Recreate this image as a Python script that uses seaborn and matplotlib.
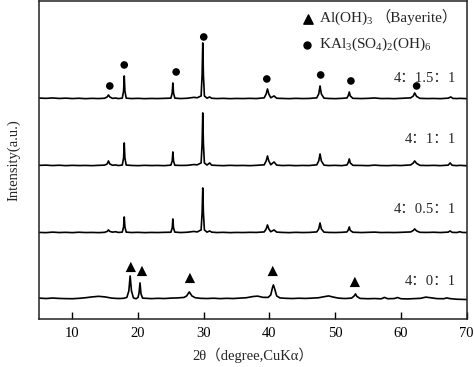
import matplotlib
matplotlib.use("Agg")
import matplotlib.pyplot as plt
import pandas as pd
import seaborn as sns
from matplotlib.offsetbox import AnnotationBbox, HPacker, TextArea

sns.set_style("ticks")
SERIF = "Liberation Serif"
CJK = "Noto Sans CJK SC"
plt.rcParams["font.family"] = [SERIF, CJK]
plt.rcParams["mathtext.fontset"] = "stix"
plt.rcParams["mathtext.default"] = "regular"

# (2theta, intensity above the pattern's own baseline)
PAT_401 = [
    (5, 0.8), (6, 0.4), (7, 0.9), (8, 0.5), (9, 0.3), (10, 0.2), (11, 0.6),
    (12, 1.2), (13, 2.0), (14, 2.6), (15, 2.0), (16, 0.8), (17, 0.4),
    (17.8, 0.6), (18.3, 1.5), (18.6, 8), (18.8, 23), (19.0, 8), (19.3, 1.0),
    (19.7, 0.2), (20.0, 1.5), (20.15, 6), (20.3, 16), (20.45, 5), (20.7, 0.8),
    (21.5, 0.5), (22, 0.3), (23, 0.6), (24, 0.4), (25, 0.8), (26, 1.0),
    (27, 1.5), (27.4, 3), (27.8, 7), (28.2, 3), (28.7, 1.2), (29.5, 0.6),
    (30.5, 0.4), (31.5, 0.7), (32.5, 0.3), (33.5, 0.6), (34.5, 0.4),
    (35.5, 0.8), (36.5, 1.2), (37.5, 2.4), (38.2, 2.8), (39, 1.6), (39.8, 1.5),
    (40.2, 4), (40.45, 11), (40.6, 14), (40.8, 10), (41.1, 3), (41.6, 1.0),
    (42.5, 0.6), (43.5, 0.4), (44.5, 0.7), (45.5, 0.5), (46.5, 0.8),
    (47.5, 1.2), (48.3, 2.2), (49, 3.0), (49.6, 2.0), (50.5, 0.8), (51.5, 0.4),
    (52.5, 0.8), (52.9, 3), (53.1, 5), (53.3, 2.5), (53.8, 0.5), (55, 0.2),
    (56, 0.4), (57, 0.1), (57.5, 1.5), (58, 0.2), (59, 0.4), (59.5, 1.4),
    (60, 0.2), (61, 0.0), (62, 0.3), (63, 0.6), (63.8, 1.8), (64.5, 1.2),
    (65.5, 0.3), (66.5, 0.2), (67, 1.0), (67.5, 0.3), (68.5, -0.3),
    (69.5, -0.5), (70, -0.6),
]

PAT_4051 = [
    (5, 0.5), (6, 0.3), (7, 0.8), (8, 0.4), (9, 0.6), (10, 0.3), (11, 0.7),
    (12, 0.4), (13, 0.5), (14, 0.3), (14.9, 0.6), (15.3, 1.5), (15.5, 3),
    (15.7, 1.5), (16.1, 0.8), (16.6, 1.2), (17.0, 0.5), (17.6, 0.8),
    (17.8, 6), (17.9, 16), (18.0, 6), (18.2, 0.8), (19, 0.4), (20, 0.6),
    (21, 0.3), (22, 0.5), (23, 0.4), (24, 0.6), (25.0, 0.7), (25.2, 5),
    (25.3, 14), (25.4, 5), (25.6, 0.8), (26.5, 0.4), (27.5, 0.7), (28.5, 1.5),
    (29.0, 1.0), (29.6, 3), (29.75, 20), (29.85, 45), (29.95, 20), (30.1, 3),
    (30.5, 0.8), (30.9, 2), (31.2, 0.8), (32, 0.4), (33, 0.6), (34, 0.3),
    (35, 0.5), (36, 0.4), (37, 0.6), (38, 0.5), (39.2, 1), (39.5, 4),
    (39.7, 8), (39.9, 4), (40.2, 1.2), (40.7, 3), (41.1, 0.8), (42, 0.5),
    (43, 0.3), (44, 0.6), (45, 0.4), (46, 0.5), (47.2, 1), (47.5, 4),
    (47.7, 10), (47.9, 4), (48.3, 0.8), (49, 0.5), (50, 0.4), (51, 0.6),
    (51.8, 1), (52.0, 3), (52.15, 6), (52.3, 2.5), (52.7, 0.7), (54, 0.4),
    (55, 0.6), (56, 0.8), (57, 0.4), (58, 0.5), (59, 0.4), (60, 0.6),
    (61.5, 1), (61.9, 2.5), (62.1, 4), (62.4, 2), (62.9, 0.6), (64, 0.5),
    (65, 0.7), (66, 0.4), (67.2, 0.8), (67.5, 2), (67.8, 0.6), (68.5, 0.4),
    (69, 1.2), (69.3, 0.5), (70, 0.4),
]

PAT_411 = [
    (5, 0.6), (6, 0.8), (7, 0.4), (8, 0.7), (9, 0.3), (10, 0.6), (11, 0.4),
    (12, 0.5), (13, 0.3), (14, 0.6), (14.9, 0.8), (15.3, 2), (15.5, 5),
    (15.7, 2), (16.1, 0.7), (16.6, 1.0), (17.0, 0.4), (17.6, 0.9),
    (17.8, 8), (17.9, 23), (18.0, 8), (18.2, 0.9), (19, 0.5), (20, 0.3),
    (21, 0.6), (22, 0.4), (23, 0.5), (24, 0.3), (25.0, 0.8), (25.2, 5),
    (25.3, 14), (25.4, 5), (25.6, 0.7), (26.5, 0.5), (27.5, 0.6), (28.5, 1.4),
    (29.0, 1.1), (29.6, 3), (29.75, 22), (29.85, 53), (29.95, 22), (30.1, 3),
    (30.5, 0.9), (30.9, 3), (31.2, 0.8), (32, 0.5), (33, 0.3), (34, 0.6),
    (35, 0.4), (36, 0.5), (37, 0.3), (38, 0.6), (39.2, 1.1), (39.5, 5),
    (39.7, 10), (39.9, 5), (40.2, 1.2), (40.7, 4), (41.1, 0.8), (42, 0.4),
    (43, 0.6), (44, 0.3), (45, 0.5), (46, 0.4), (47.2, 1.1), (47.5, 5),
    (47.7, 12), (47.9, 5), (48.3, 0.8), (49, 0.4), (50, 0.6), (51, 0.3),
    (51.8, 1), (52.0, 3.5), (52.15, 7), (52.3, 3), (52.7, 0.6), (54, 0.5),
    (55, 0.3), (56, 0.8), (57, 0.4), (58, 0.3), (59, 0.6), (60, 0.4),
    (61.5, 1), (61.9, 3), (62.1, 5), (62.4, 2.5), (62.9, 0.6), (64, 0.4),
    (65, 0.6), (66, 0.3), (67.2, 0.8), (67.5, 3), (67.8, 0.7), (68.5, 0.3),
    (69, 0.6), (70, 0.2),
]

PAT_41151 = [
    (5, 0.9), (6, 0.6), (7, 1.0), (8, 0.5), (9, 0.8), (10, 0.4), (11, 0.7),
    (12, 0.3), (13, 0.6), (14, 0.4), (14.9, 0.7), (15.3, 2), (15.5, 4),
    (15.7, 2), (16.1, 0.6), (16.6, 0.9), (17.0, 0.4), (17.6, 0.8),
    (17.8, 8), (17.9, 23), (18.0, 8), (18.2, 0.8), (19, 0.4), (20, 0.6),
    (21, 0.3), (22, 0.5), (23, 0.4), (24, 0.6), (25.0, 0.8), (25.2, 6),
    (25.3, 16), (25.4, 6), (25.6, 0.8), (26.5, 0.4), (27.5, 0.7), (28.5, 1.6),
    (29.0, 1.2), (29.6, 3), (29.75, 24), (29.85, 56), (29.95, 24), (30.1, 3),
    (30.5, 0.8), (30.9, 2), (31.2, 0.7), (32, 0.4), (33, 0.6), (34, 0.3),
    (35, 0.5), (36, 0.4), (37, 0.6), (38, 0.4), (39.2, 1.1), (39.5, 5),
    (39.7, 10), (39.9, 5), (40.2, 1.2), (40.7, 3), (41.1, 0.7), (42, 0.5),
    (43, 0.3), (44, 0.6), (45, 0.4), (46, 0.5), (47.2, 1.1), (47.5, 5),
    (47.7, 13), (47.9, 5), (48.3, 0.8), (49, 0.5), (50, 0.3), (51, 0.6),
    (51.8, 1), (52.0, 3.5), (52.15, 7), (52.3, 3), (52.7, 0.6), (54, 0.4),
    (55, 0.6), (56, 1.0), (57, 0.4), (58, 0.5), (59, 0.3), (60, 0.6),
    (61.5, 1.1), (61.9, 3), (62.1, 6), (62.4, 2.5), (62.9, 0.6), (64, 0.4),
    (65, 0.5), (66, 0.3), (67.2, 0.8), (67.6, 2), (67.9, 0.6), (68.5, 0.4),
    (69, 0.6), (70, 0.3),
]

RATIO_LABELS = ["4：0：1", "4：0.5：1", "4：1：1", "4：1.5：1"]
PATTERNS = [PAT_401, PAT_4051, PAT_411, PAT_41151]
BASELINES = [20, 86, 153, 220]
LABEL_Y = [37, 109, 179, 241]

# phase markers: 2theta and height on the figure's intensity scale
BAYERITE_TT = [18.9, 20.6, 27.9, 40.5, 53.0]
BAYERITE_Y = [52, 48, 41, 48, 37]
ALUNITE_TT = [15.7, 17.9, 25.8, 30.0, 39.6, 47.8, 52.4, 62.4]
ALUNITE_Y = [233, 254, 247, 282, 240, 244, 238, 233]

frames = []
for label, pat, base in zip(RATIO_LABELS, PATTERNS, BASELINES):
    df = pd.DataFrame(pat, columns=["two_theta", "intensity"])
    df["intensity"] = df["intensity"] + base
    df["sample"] = label
    frames.append(df)
data = pd.concat(frames, ignore_index=True)

fig = plt.figure(figsize=(4.74, 3.67), dpi=100)
ax = fig.add_axes([0.0833, 0.131, 0.901, 0.865])

sns.lineplot(
    data=data, x="two_theta", y="intensity", units="sample", estimator=None,
    color="black", linewidth=1.2, sort=False, ax=ax, legend=False,
)
sns.scatterplot(x=BAYERITE_TT, y=BAYERITE_Y, marker="^", s=55, color="black",
                edgecolor="none", ax=ax, legend=False)
sns.scatterplot(x=ALUNITE_TT, y=ALUNITE_Y, marker="o", s=30, color="black",
                edgecolor="none", ax=ax, legend=False)

for label, ly in zip(RATIO_LABELS, LABEL_Y):
    ax.text(68.4, ly, label, ha="right", va="center", fontsize=10.5)

# legend drawn by hand (mixed subscripts and full-width brackets)
ax.scatter([0.629], [0.945], marker="^", s=45, color="black",
           transform=ax.transAxes, clip_on=False)
ax.scatter([0.627], [0.862], marker="o", s=25, color="black",
           transform=ax.transAxes, clip_on=False)
tp = dict(fontsize=11, family=[SERIF, CJK])
leg1 = HPacker(children=[TextArea("Al(OH)$_3$", textprops=tp),
                         TextArea("（Bayerite）", textprops=tp)],
               align="baseline", pad=0, sep=1)
leg2 = TextArea("KAl$_3$(SO$_4$)$_2$(OH)$_6$", textprops=tp)
for box, yy in [(leg1, 0.948), (leg2, 0.865)]:
    ab = AnnotationBbox(box, (0.655, yy), xycoords="axes fraction",
                        box_alignment=(0, 0.5), frameon=False, pad=0)
    ax.add_artist(ab)

ax.set_xlim(5, 70)
ax.set_ylim(0, 317.5)
ax.set_xticks([10, 20, 30, 40, 50, 60, 70])
ax.set_yticks([])
ax.tick_params(axis="x", direction="in", length=5, width=1, labelsize=10.5,
               pad=6, colors="black")
for sp in ax.spines.values():
    sp.set_linewidth(1.1)
    sp.set_color("#222222")
ax.set_xlabel("2θ（degree,CuKα）", fontsize=10.5, labelpad=5)
ax.set_ylabel("Intensity(a.u.)", fontsize=10.5, labelpad=14)

fig.savefig("out.png", dpi=100)
